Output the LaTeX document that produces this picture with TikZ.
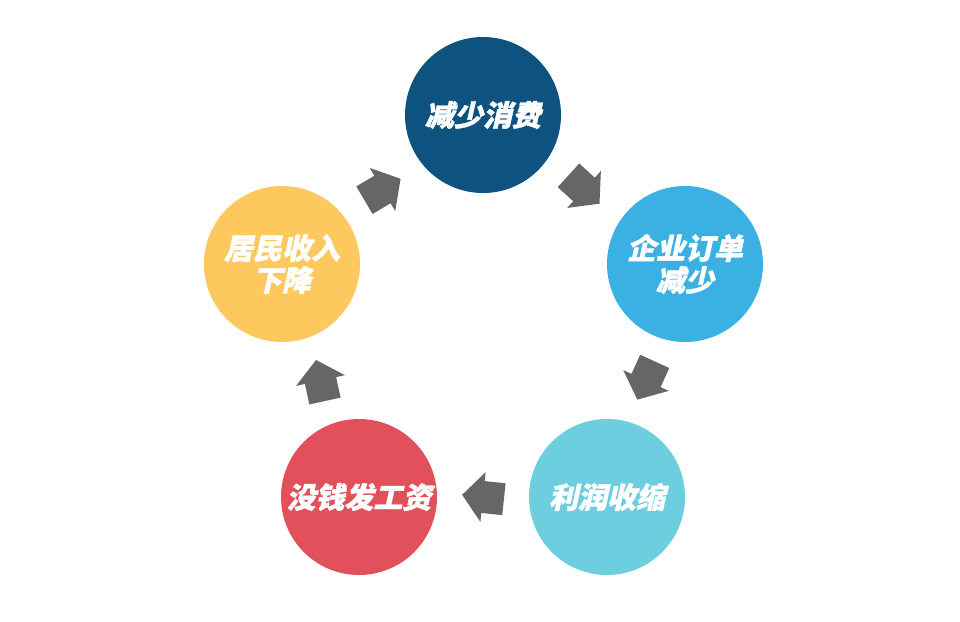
\documentclass[tikz,border=0pt]{standalone}
\usepackage{fontspec}
\newfontfamily\cjk[FakeSlant=0.22,FakeBold=1.5]{Noto Sans CJK SC}
\usetikzlibrary{calc}
\definecolor{cA}{HTML}{0E527F}
\definecolor{cB}{HTML}{3AB1E2}
\definecolor{cC}{HTML}{6CCEDE}
\definecolor{cD}{HTML}{E2505C}
\definecolor{cE}{HTML}{FDC95F}
\definecolor{arr}{HTML}{666666}
\tikzset{
  bubble/.style={circle, minimum size=156pt, inner sep=0pt, draw=none, text=white,
    font=\cjk\bfseries\fontsize{29}{32}\selectfont, align=center},
  blockarrow/.pic={\fill[arr] (-21,-16) -- (0,-16) -- (0,-25) -- (21,0) -- (0,25) -- (0,16) -- (-21,16) -- cycle;}
}
\begin{document}
\begin{tikzpicture}[x=1pt,y=-1pt]
\fill[white] (0,0) rectangle (960,621);
\useasboundingbox (0,0) rectangle (960,621);
\node[bubble, fill=cA] (c1) at (483,115) {减少消费};
\node[bubble, fill=cB] (c2) at (685,264) {企业订单\\减少};
\node[bubble, fill=cC] (c3) at (607,497) {利润收缩};
\node[bubble, fill=cD] (c4) at (359,497) {没钱发工资};
\node[bubble, fill=cE] (c5) at (282,264) {居民收入\\下降};
\foreach \a/\b in {c1/c2, c2/c3, c3/c4, c4/c5, c5/c1} {
  \path let \p1=($(\b)-(\a)$), \n1={atan2(\y1,\x1)-6} in
    pic[rotate=\n1] at ($(\a)!0.5!(\b)$) {blockarrow};
}
\end{tikzpicture}
\end{document}
